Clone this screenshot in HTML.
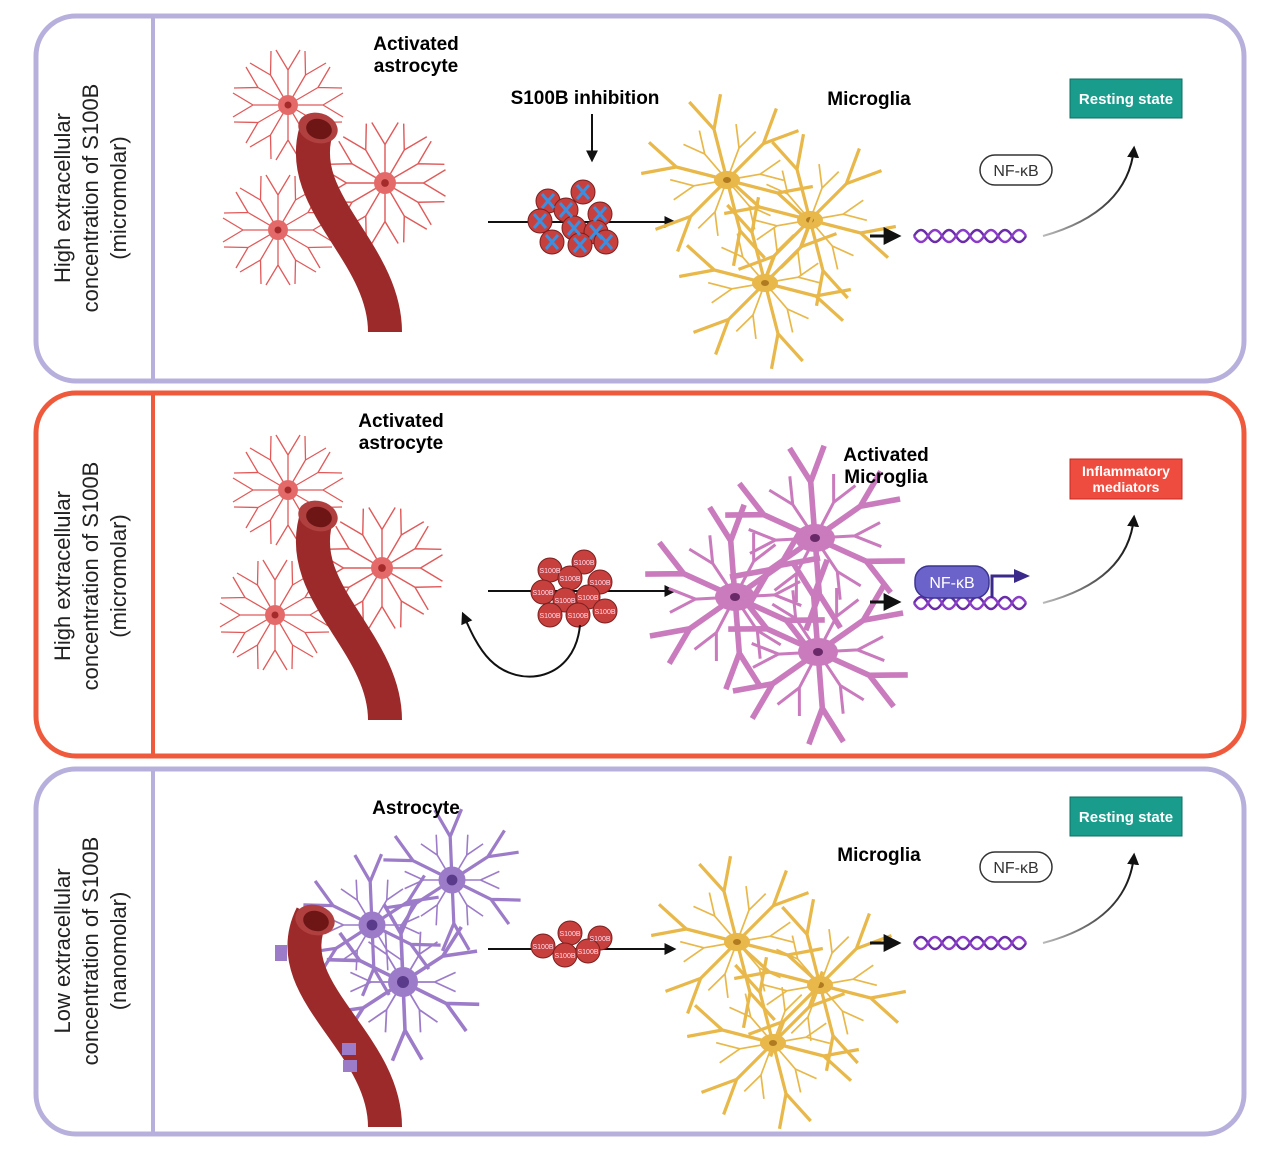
<!DOCTYPE html>
<html><head><meta charset="utf-8"><style>
html,body{margin:0;padding:0;background:#fff}
svg{display:block}
text{font-family:"Liberation Sans",sans-serif}
</style></head><body>
<svg width="1265" height="1156" viewBox="0 0 1265 1156" xmlns="http://www.w3.org/2000/svg">
<defs>
<marker id="ah" viewBox="0 0 10 10" refX="8" refY="5" markerWidth="6" markerHeight="6" orient="auto"><path d="M0 0L10 5L0 10z" fill="#111"/></marker>
<path id="br" d="M0 0L35 0M35 0L55 -12M35 0L55 12M0 0L30 17.5M30 17.5L42 38M30 17.5L54 17M0 0L17.5 30M17.5 30L17 54M17.5 30L38 42M0 0L0 35M0 35L-12 55M0 35L12 55M0 0L-17.5 30M-17.5 30L-38 42M-17.5 30L-17 54M0 0L-30 17.5M-30 17.5L-54 17M-30 17.5L-42 38M0 0L-35 0M-35 0L-55 12M-35 0L-55 -12M0 0L-30 -17.5M-30 -17.5L-42 -38M-30 -17.5L-54 -17M0 0L-17.5 -30M-17.5 -30L-17 -54M-17.5 -30L-38 -42M0 0L0 -35M0 -35L12 -55M0 -35L-12 -55M0 0L17.5 -30M17.5 -30L38 -42M17.5 -30L17 -54M0 0L30 -17.5M30 -17.5L54 -17M30 -17.5L42 -38"/>
<path id="b6" d="M0 0L39 10M39 10L60 29M39 10L66 5M0 0L10 39M10 39L5 66M10 39L29 60M0 0L-28 28M-28 28L-55 38M-28 28L-38 55M0 0L-39 -10M-39 -10L-60 -29M-39 -10L-66 -5M0 0L-10 -39M-10 -39L-5 -66M-10 -39L-29 -60M0 0L28 -28M28 -28L55 -38M28 -28L38 -55"/>
<g id="rastro"><use href="#br" stroke="#e05a5a" stroke-width="1.3" fill="none"/><circle r="10" fill="#e46a6a"/><circle r="3.5" fill="#a52a2a"/></g>
<g id="yel"><use href="#b6" stroke="#e8b84a" stroke-width="2.5" fill="none" transform="scale(1.3)"/><use href="#b6" stroke="#e8b84a" stroke-width="2" fill="none" transform="rotate(35) scale(0.85)"/><ellipse rx="13" ry="9" fill="#e8b84a"/><ellipse rx="4" ry="3" fill="#b07a20"/></g>
<g id="pink"><use href="#b6" stroke="#c97bbd" stroke-width="4" fill="none" transform="rotate(10) scale(1.4)"/><use href="#b6" stroke="#c97bbd" stroke-width="3" fill="none" transform="rotate(42) scale(1)"/><ellipse rx="20" ry="14" fill="#c97bbd"/><ellipse rx="5" ry="4" fill="#6a2a6a"/></g>
<g id="purp"><use href="#b6" stroke="#9c7cc9" stroke-width="3" fill="none" transform="rotate(12) scale(1.2)"/><use href="#b6" stroke="#9c7cc9" stroke-width="2.2" fill="none" transform="rotate(45) scale(0.8)"/><circle r="15" fill="#9c7cc9"/><circle r="6" fill="#5a3a8a"/></g>
<g id="dna" fill="none" stroke="#6a2ca8" stroke-width="2.5"><path d="M0 0q7 -12 14 0t14 0t14 0t14 0t14 0t14 0t14 0t14 0"/><path d="M0 0q7 12 14 0t14 0t14 0t14 0t14 0t14 0t14 0t14 0" stroke="#8a3cc8"/></g>
<linearGradient id="fade" x1="0" x2="1"><stop offset="0" stop-color="#bbb"/><stop offset="1" stop-color="#111"/></linearGradient>
</defs>

<rect x="36" y="16" width="1208" height="365" rx="40" fill="none" stroke="#b8b0dc" stroke-width="5"/>
<line x1="153" y1="18" x2="153" y2="379" stroke="#b8b0dc" stroke-width="4"/>
<rect x="36" y="393" width="1208" height="363" rx="40" fill="none" stroke="#f05a3c" stroke-width="5"/>
<line x1="153" y1="395" x2="153" y2="754" stroke="#f05a3c" stroke-width="4"/>
<rect x="36" y="769" width="1208" height="365" rx="40" fill="none" stroke="#b8b0dc" stroke-width="5"/>
<line x1="153" y1="771" x2="153" y2="1132" stroke="#b8b0dc" stroke-width="4"/>

<g font-size="22" fill="#222" text-anchor="middle">
<text transform="translate(94,198) rotate(-90)"><tspan x="0" y="-24">High extracellular</tspan><tspan x="0" y="4">concentration of S100B</tspan><tspan x="0" y="32">(micromolar)</tspan></text>
<text transform="translate(94,576) rotate(-90)"><tspan x="0" y="-24">High extracellular</tspan><tspan x="0" y="4">concentration of S100B</tspan><tspan x="0" y="32">(micromolar)</tspan></text>
<text transform="translate(94,951) rotate(-90)"><tspan x="0" y="-24">Low extracellular</tspan><tspan x="0" y="4">concentration of S100B</tspan><tspan x="0" y="32">(nanomolar)</tspan></text>
</g>

<!-- PANEL 1 -->
<use href="#rastro" transform="translate(288,105)"/>
<use href="#rastro" transform="translate(385,183) scale(1.1)"/>
<use href="#rastro" transform="translate(278,230)"/>
<path d="M318 125 C 290 200, 385 250, 385 332" fill="none" stroke="#9c2a2a" stroke-width="34"/>
<ellipse cx="318" cy="128" rx="20" ry="15" fill="#b04040" transform="rotate(15 318 128)"/><ellipse cx="319" cy="129" rx="13" ry="10" fill="#6e1616" transform="rotate(15 319 129)"/>
<text x="416" y="50" font-size="19" font-weight="bold" text-anchor="middle">Activated</text>
<text x="416" y="72" font-size="19" font-weight="bold" text-anchor="middle">astrocyte</text>
<text x="585" y="104" font-size="19" font-weight="bold" text-anchor="middle">S100B inhibition</text>
<line x1="592" y1="114" x2="592" y2="160" stroke="#111" stroke-width="2" marker-end="url(#ah)"/>
<line x1="488" y1="222" x2="674" y2="222" stroke="#111" stroke-width="2" marker-end="url(#ah)"/>
<g fill="#c8403e" stroke="#7a2020" stroke-width="1">
<circle cx="548" cy="201" r="12"/><circle cx="583" cy="192" r="12"/><circle cx="566" cy="210" r="12"/><circle cx="600" cy="214" r="12"/><circle cx="540" cy="221" r="12"/><circle cx="574" cy="228" r="12"/><circle cx="596" cy="232" r="12"/><circle cx="552" cy="242" r="12"/><circle cx="580" cy="245" r="12"/><circle cx="606" cy="242" r="12"/></g>
<g stroke="#3b8fe0" stroke-width="3"><path d="M542 194l12 14M554 194l-12 14M577 185l12 14M589 185l-12 14M560 203l12 14M572 203l-12 14M594 207l12 14M606 207l-12 14M534 214l12 14M546 214l-12 14M568 221l12 14M580 221l-12 14M590 225l12 14M602 225l-12 14M546 235l12 14M558 235l-12 14M574 238l12 14M586 238l-12 14M600 235l12 14M612 235l-12 14"/></g>
<use href="#yel" transform="translate(727,180)"/>
<use href="#yel" transform="translate(810,220)"/>
<use href="#yel" transform="translate(765,283)"/>
<text x="869" y="105" font-size="19" font-weight="bold" text-anchor="middle">Microglia</text>
<line x1="870" y1="236" x2="898" y2="236" stroke="#111" stroke-width="3" marker-end="url(#ah)"/>
<use href="#dna" transform="translate(914,236)"/>
<path d="M1043 236 C 1100 220, 1130 190, 1134 148" fill="none" stroke="url(#fade)" stroke-width="2" marker-end="url(#ah)"/>
<rect x="980" y="155" width="72" height="30" rx="15" fill="#fff" stroke="#333" stroke-width="1.5"/>
<text x="1016" y="176" font-size="16" text-anchor="middle" fill="#333">NF-κB</text>
<rect x="1070" y="79" width="112" height="39" fill="#1a9c8c" stroke="#0d6e62"/>
<text x="1126" y="104" font-size="15" font-weight="bold" fill="#fff" text-anchor="middle">Resting state</text>

<!-- PANEL 2 -->
<use href="#rastro" transform="translate(288,490)"/>
<use href="#rastro" transform="translate(382,568) scale(1.1)"/>
<use href="#rastro" transform="translate(275,615)"/>
<path d="M318 513 C 290 590, 385 640, 385 720" fill="none" stroke="#9c2a2a" stroke-width="34"/>
<ellipse cx="318" cy="516" rx="20" ry="15" fill="#b04040" transform="rotate(15 318 516)"/><ellipse cx="319" cy="517" rx="13" ry="10" fill="#6e1616" transform="rotate(15 319 517)"/>
<text x="401" y="427" font-size="19" font-weight="bold" text-anchor="middle">Activated</text>
<text x="401" y="449" font-size="19" font-weight="bold" text-anchor="middle">astrocyte</text>
<line x1="488" y1="591" x2="674" y2="591" stroke="#111" stroke-width="2" marker-end="url(#ah)"/>
<g fill="#c8403e" stroke="#7a2020" stroke-width="1">
<circle cx="550" cy="570" r="12"/><circle cx="584" cy="562" r="12"/><circle cx="570" cy="578" r="12"/><circle cx="600" cy="582" r="12"/><circle cx="543" cy="592" r="12"/><circle cx="565" cy="600" r="12"/><circle cx="588" cy="597" r="12"/><circle cx="550" cy="615" r="12"/><circle cx="578" cy="615" r="12"/><circle cx="605" cy="611" r="12"/></g>
<g font-size="7" fill="#fde" text-anchor="middle"><text x="550" y="573">S100B</text><text x="584" y="565">S100B</text><text x="570" y="581">S100B</text><text x="600" y="585">S100B</text><text x="543" y="595">S100B</text><text x="565" y="603">S100B</text><text x="588" y="600">S100B</text><text x="550" y="618">S100B</text><text x="578" y="618">S100B</text><text x="605" y="614">S100B</text></g>
<path d="M580 625 C 575 680, 520 690, 490 660 C 478 648, 470 630, 463 614" fill="none" stroke="#111" stroke-width="2" marker-end="url(#ah)"/>
<use href="#pink" transform="translate(735,597)"/>
<use href="#pink" transform="translate(815,538)"/>
<use href="#pink" transform="translate(818,652)"/>
<text x="886" y="461" font-size="19" font-weight="bold" text-anchor="middle">Activated</text>
<text x="886" y="483" font-size="19" font-weight="bold" text-anchor="middle">Microglia</text>
<line x1="870" y1="602" x2="898" y2="602" stroke="#111" stroke-width="3" marker-end="url(#ah)"/>
<use href="#dna" transform="translate(914,603)"/>
<rect x="915" y="566" width="74" height="32" rx="14" fill="#6b63c9" stroke="#3b3490" stroke-width="1.5"/>
<text x="952" y="588" font-size="16" fill="#fff" text-anchor="middle">NF-κB</text>
<path d="M992 598 V576 H1016" fill="none" stroke="#3b2a8a" stroke-width="3"/><path d="M1014 569 L1030 576 L1014 583z" fill="#3b2a8a"/>
<path d="M1043 603 C 1100 588, 1130 560, 1134 517" fill="none" stroke="url(#fade)" stroke-width="2" marker-end="url(#ah)"/>
<rect x="1070" y="459" width="112" height="40" fill="#ee4c3f" stroke="#c62a20"/>
<text x="1126" y="476" font-size="14" font-weight="bold" fill="#fff" text-anchor="middle">Inflammatory</text>
<text x="1126" y="492" font-size="14" font-weight="bold" fill="#fff" text-anchor="middle">mediators</text>

<!-- PANEL 3 -->
<use href="#purp" transform="translate(372,925) scale(0.9)"/>
<use href="#purp" transform="translate(452,880) scale(0.9)"/>
<use href="#purp" transform="translate(403,982)"/>
<path d="M312 915 C 275 990, 385 1040, 385 1127" fill="none" stroke="#9c2a2a" stroke-width="34"/>
<ellipse cx="315" cy="920" rx="20" ry="15" fill="#b04040" transform="rotate(15 315 920)"/><ellipse cx="316" cy="921" rx="13" ry="10" fill="#6e1616" transform="rotate(15 316 921)"/>
<g fill="#9c7cc9"><rect x="275" y="945" width="12" height="16"/><rect x="342" y="1043" width="14" height="12"/><rect x="343" y="1060" width="14" height="12"/></g>
<text x="416" y="814" font-size="19" font-weight="bold" text-anchor="middle">Astrocyte</text>
<line x1="488" y1="949" x2="674" y2="949" stroke="#111" stroke-width="2" marker-end="url(#ah)"/>
<g fill="#c8403e" stroke="#7a2020" stroke-width="1"><circle cx="570" cy="933" r="12"/><circle cx="600" cy="938" r="12"/><circle cx="543" cy="946" r="12"/><circle cx="565" cy="955" r="12"/><circle cx="588" cy="951" r="12"/></g>
<g font-size="7" fill="#fde" text-anchor="middle"><text x="570" y="936">S100B</text><text x="600" y="941">S100B</text><text x="543" y="949">S100B</text><text x="565" y="958">S100B</text><text x="588" y="954">S100B</text></g>
<use href="#yel" transform="translate(737,942)"/>
<use href="#yel" transform="translate(820,985)"/>
<use href="#yel" transform="translate(773,1043)"/>
<text x="879" y="861" font-size="19" font-weight="bold" text-anchor="middle">Microglia</text>
<line x1="870" y1="943" x2="898" y2="943" stroke="#111" stroke-width="3" marker-end="url(#ah)"/>
<use href="#dna" transform="translate(914,943)"/>
<path d="M1043 943 C 1100 928, 1130 898, 1134 855" fill="none" stroke="url(#fade)" stroke-width="2" marker-end="url(#ah)"/>
<rect x="980" y="852" width="72" height="30" rx="15" fill="#fff" stroke="#333" stroke-width="1.5"/>
<text x="1016" y="873" font-size="16" text-anchor="middle" fill="#333">NF-κB</text>
<rect x="1070" y="797" width="112" height="39" fill="#1a9c8c" stroke="#0d6e62"/>
<text x="1126" y="822" font-size="15" font-weight="bold" fill="#fff" text-anchor="middle">Resting state</text>
</svg>
</body></html>
